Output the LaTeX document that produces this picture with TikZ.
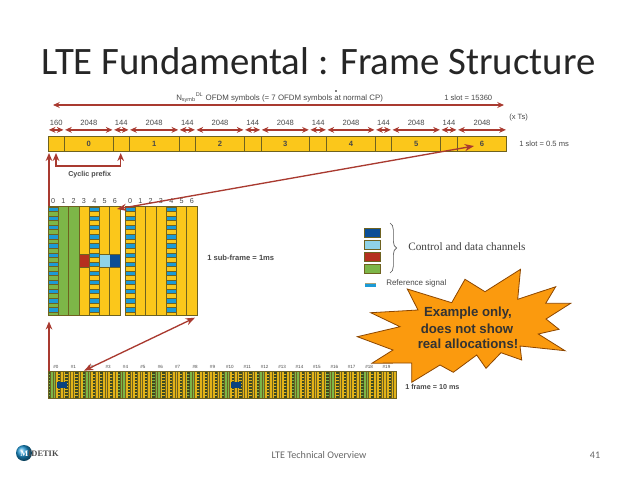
\documentclass[tikz,border=0pt]{standalone}
\usepackage{fontspec}
\setmainfont{Liberation Sans}
\newfontfamily\titlefont{Carlito}
\newfontfamily\serfont{Liberation Serif}
\usetikzlibrary{arrows.meta,decorations.pathreplacing}
\definecolor{yel}{HTML}{FBC71B}
\definecolor{grn}{HTML}{7DB648}
\definecolor{edgeol}{HTML}{6E6220}
\definecolor{arrred}{HTML}{A93A30}
\definecolor{refblue}{HTML}{1C9AD6}
\definecolor{navy}{HTML}{0B4E96}
\definecolor{lblue}{HTML}{8FD3E8}
\definecolor{brick}{HTML}{B5301F}
\definecolor{starfill}{HTML}{FB9A0E}
\definecolor{txtg}{HTML}{484848}
\definecolor{dashdark}{HTML}{3D4A22}
\tikzset{
 cellbox/.style={draw=edgeol,line width=.5pt,inner sep=0,outer sep=0,minimum height=11.25pt},
 dimarrow/.style={draw=arrred,line width=.95pt,{Stealth[length=5pt,width=4.4pt]}-{Stealth[length=5pt,width=4.4pt]}},
 uparrow/.style={draw=arrred,line width=1.05pt,-{Stealth[length=6pt,width=5pt]}},
 diagarrow/.style={draw=arrred,line width=1pt,{Stealth[length=7pt,width=5.4pt]}-{Stealth[length=7pt,width=5.4pt]}},
 smalltxt/.style={text=txtg,inner sep=0,font=\fontsize{5.7}{6}\selectfont},
 tinytxt/.style={text=txtg,inner sep=0,font=\fontsize{3.4}{4}\selectfont},
 gridlab/.style={text=txtg,inner sep=0,font=\fontsize{5.4}{6}\selectfont},
 legendbox/.style={draw=edgeol,line width=.4pt,inner sep=0,outer sep=0,minimum width=12pt,minimum height=6.8pt},
 startext/.style={text=black!80,inner sep=0,font=\fontsize{9.9}{11}\selectfont\bfseries},
 footer/.style={text=black!60,inner sep=0,font=\titlefont\fontsize{7.6}{9}\selectfont},
}
\begin{document}
\begin{tikzpicture}[x=.75pt,y=-.75pt]
\useasboundingbox (0,0) rectangle (638,478);
% title
\node[inner sep=0,text=black!85,font=\titlefont\fontsize{29.1}{31}\selectfont] (title) at (318.5,61) {LTE Fundamental : Frame Structure};
% top bar
\foreach \i/\a/\b/\t in {0/48/64.3/,1/64.3/113.3/0,2/113.3/129.3/,3/129.3/179/1,4/179/195.7/,5/195.7/244.3/2,6/244.3/261/,7/261/309.6/3,8/309.6/326.7/,9/326.7/375.3/4,10/375.3/391.7/,11/391.7/440.7/5,12/440.7/457.3/,13/457.3/506.7/6}{
 \pgfmathsetlengthmacro{\segw}{(\b-\a)*.75pt}
 \node[cellbox,fill=yel,minimum width=\segw,text=txtg,font=\fontsize{5.7}{6}\selectfont\bfseries] (seg\i) at ({(\a+\b)/2},143.5) {\t};
 \draw[dimarrow] ([xshift=.6pt,yshift=4.6pt]seg\i.north west) -- ([xshift=-.6pt,yshift=4.6pt]seg\i.north east);
}
\foreach \i/\t in {0/160,1/2048,2/144,3/2048,4/144,5/2048,6/144,7/2048,8/144,9/2048,10/144,11/2048,12/144,13/2048}{
 \node[smalltxt] (toplab\i) at ([yshift=10pt]seg\i.north) {\t};
}
% overall arrow
\coordinate (ovl) at (53,105);
\coordinate (ovr) at (504,105);
\draw[dimarrow] (ovl) -- (ovr);
\node[smalltxt,anchor=west,font=\fontsize{5.9}{6}\selectfont] (ofdm) at (176,98) {N\textsubscript{symb}\textsuperscript{DL} OFDM symbols (= 7 OFDM symbols at normal CP)};
\node[smalltxt,anchor=west] (slotn) at (444,98) {1 slot = 15360};
\node[smalltxt,anchor=west] (xts) at (509,118) {(x Ts)};
\node[smalltxt,anchor=west] (slotms) at (519,144) {1 slot = 0.5 ms};
\fill[black] (336,91) circle (.9);
% cyclic prefix
\coordinate (cpa) at (56,166);
\coordinate (cpb) at (120.7,166);
\draw[uparrow,{Stealth[length=6pt,width=5pt]}-{Stealth[length=6pt,width=5pt]}] (56,153) -- (cpa) -- (cpb) -- (120.7,153);
\node[smalltxt,anchor=west,font=\fontsize{5.4}{6}\selectfont\bfseries] (cp) at (68,175) {Cyclic prefix};
% subframe grid
\foreach \bx/\g in {48/1,125/0}{
 \foreach \c in {0,...,6}{
  \pgfmathsetmacro{\cx}{\bx+\c*10.29}
  \pgfmathtruncatemacro{\isg}{\g==1 && \c<3}
  \ifnum\isg=1 \def\cc{grn}\else\def\cc{yel}\fi
  \fill[\cc] (\cx,206) rectangle ({\cx+10.29},315.7);
  \draw[edgeol,line width=.5pt] (\cx,206) rectangle ({\cx+10.29},315.7);
  \node[gridlab] (n\bx\c) at ({\cx+5.1},201) {\c};
 }
 \foreach \c in {0,4}{
  \pgfmathsetmacro{\cx}{\bx+\c*10.29}
  \foreach \r in {0,...,11}{
   \pgfmathsetmacro{\ry}{207+\r*9.14}
   \draw[edgeol,line width=.3pt,fill=refblue] (\cx,\ry) rectangle ({\cx+10.29},{\ry+4.4});
  }
 }
}
\fill[brick] (78.9,254) rectangle (89.2,267.7);
\fill[lblue] (99.5,254) rectangle (109.8,267.7);
\fill[navy] (109.8,254) rectangle (120.1,267.7);
\draw[edgeol,line width=.4pt] (78.9,254) rectangle (89.2,267.7) (99.5,254) rectangle (120.1,267.7);
\node[smalltxt,anchor=west,font=\fontsize{5.7}{6}\selectfont\bfseries] (sub) at (207,258) {1 sub-frame = 1ms};
% frame bar
\foreach \s in {0,...,19}{
 \pgfmathsetmacro{\sx}{48+\s*17.4}
 \pgfmathtruncatemacro{\ev}{mod(\s,2)}
 \fill[yel!90!black] (\sx,371.3) rectangle ({\sx+17.4},398.3);
 \ifnum\ev=0 \fill[grn] (\sx,371.3) rectangle ({\sx+7.5},398.3);\fi
 \foreach \c in {1,2,3,5,6}{
  \draw[edgeol,line width=.3pt] ({\sx+\c*2.486},371.3) -- ({\sx+\c*2.486},398.3);
 }
 \foreach \c in {0,4}{
  \pgfmathsetmacro{\cx}{\sx+\c*2.486}
  \foreach \r in {0,...,8}{
   \fill[dashdark] (\cx,{371.8+\r*3}) rectangle ({\cx+2.486},{371.8+\r*3+1.9});
  }
 }
 \node[tinytxt] (slotlab\s) at ({\sx+7.9},367) {\#\s};
}
\draw[edgeol,line width=.4pt] (48,371.3) rectangle (396,398.3);
\fill[navy!85!black] (57,382) rectangle (67,388);
\fill[navy!85!black] (231,382) rectangle (241,388);
% long arrows
\coordinate (barb) at (49,153);
\coordinate (gridtl) at (49,206);
\draw[uparrow] (gridtl) -- (barb);
\coordinate (frtl) at (49,371);
\coordinate (gridbl) at (49,321.5);
\draw[uparrow] (frtl) -- (gridbl);
\coordinate (s6) at (474,146);
\coordinate (sl0) at (117,209);
\draw[diagarrow] (sl0) -- (s6);
\coordinate (gbr) at (195,317.7);
\coordinate (fs1) at (84,370.7);
\draw[diagarrow] (gbr) -- (fs1);
\node[smalltxt,anchor=west,font=\fontsize{5.4}{6}\selectfont\bfseries] (frm) at (405,386.5) {1 frame = 10 ms};
% legend
\node[legendbox,fill=navy] (l1) at (372.7,232.4) {};
\node[legendbox,fill=lblue] (l2) at (372.7,244.8) {};
\node[legendbox,fill=brick] (l3) at (372.7,256.7) {};
\node[legendbox,fill=grn] (l4) at (372.7,268.8) {};
\coordinate (bt) at (390,223);
\coordinate (bb) at (390,273);
\draw[black!65,line width=.5pt,decorate,decoration={brace,amplitude=5pt,aspect=.5}] (bt) -- (bb);
\node[inner sep=0,anchor=west,text=black!75,font=\serfont\fontsize{8.45}{10}\selectfont] (ctrl) at (408,247) {Control and data channels};
\fill[refblue] (365,283) rectangle (376,287);
\draw[edgeol!60,line width=.2pt] (365,283) -- (376,283);
\node[smalltxt,anchor=west,font=\fontsize{6}{6}\selectfont] (rsig) at (386,283.5) {Reference signal};
% star
\draw[draw=black!45!orange,fill=starfill,line width=.6pt,line join=miter]
 (407.3,289) -- (451.7,302.7) -- (465,279.3) -- (485,291.7) -- (520.5,269.3) -- (517.7,299.3) -- (555.7,286.7) -- (545.7,303.3) -- (570.7,303.3) -- (546,319) -- (559,329.3) -- (538.3,334) -- (565,350.7) -- (520,346) -- (521.7,360) -- (501,352.7) -- (486,368.3) -- (476.7,355) -- (453.3,372.3) -- (440,365) -- (411.7,382.3) -- (411.7,363) -- (372,363.2) -- (393,350) -- (357.3,336.7) -- (400,326.7) -- (370.7,312.7) -- (418,310) -- cycle;
\node[startext] (st1) at (468,313) {Example only,};
\node[startext] (st2) at (467,328.5) {does not show};
\node[startext] (st3) at (468,344) {real allocations!};
% footer
\node[footer] (foot) at (319,455.5) {LTE Technical Overview};
\node[footer] (pg) at (595,455.5) {41};
\shade[ball color=refblue!90!navy] (24,453) circle (8);
\node[inner sep=0,anchor=west,font=\serfont\fontsize{6.3}{7}\selectfont\bfseries,text=black!70] (logo) at (20,454) {\textcolor{white}{M}IDETIK};
\end{tikzpicture}
\end{document}
